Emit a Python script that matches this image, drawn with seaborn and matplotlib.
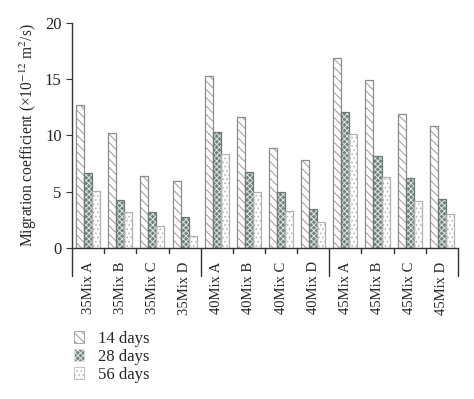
import numpy as np
import pandas as pd
import matplotlib.pyplot as plt
import seaborn as sns
from matplotlib.patches import Rectangle, Patch

mixes = ['35Mix A', '35Mix B', '35Mix C', '35Mix D',
         '40Mix A', '40Mix B', '40Mix C', '40Mix D',
         '45Mix A', '45Mix B', '45Mix C', '45Mix D']
days = ['14 days', '28 days', '56 days']
d14 = [12.7, 10.2, 6.4, 6.0, 15.3, 11.6, 8.85, 7.85, 16.85, 14.95, 11.9, 10.85]
d28 = [6.65, 4.3, 3.2, 2.75, 10.3, 6.8, 5.0, 3.5, 12.05, 8.15, 6.2, 4.35]
d56 = [5.05, 3.25, 2.0, 1.1, 8.35, 4.95, 3.3, 2.35, 10.1, 6.35, 4.15, 3.05]

df = pd.DataFrame({
    'mix': mixes * 3,
    'days': np.repeat(days, len(mixes)),
    'value': d14 + d28 + d56,
})

sns.set_style('white')
plt.rcParams['font.family'] = ['Liberation Serif', 'DejaVu Serif']
plt.rcParams['mathtext.fontset'] = 'stix'
plt.rcParams['hatch.linewidth'] = 0.7

fig = plt.figure(figsize=(4.74, 3.99), dpi=100)
ax = fig.add_axes([0.152, 0.378, 0.814, 0.565])

sns.barplot(data=df, x='mix', y='value', hue='days', width=0.75,
            palette=['white', 'white', 'white'], ax=ax, legend=False)

# face colour, hatch, hatch colour, border colour
styles = {
    '14 days': ('white', '\\\\\\\\', '#9a9a9a', '#8c8c8c'),
    '28 days': ('#738279', 'xxxxxx', '#dfe5e1', '#6a7a73'),
    '56 days': ('white', '....', '#b8b8b8', '#b0b0b0'),
}
n = len(mixes)
handles = []
for i, day in enumerate(days):
    fc, h, hc, ec = styles[day]
    for p in ax.patches[i * n:(i + 1) * n]:
        p.set_facecolor(fc)
        p.set_hatch(h)
        p.set_edgecolor(hc)
        p.set_linewidth(0)
        ax.add_patch(Rectangle(p.get_xy(), p.get_width(), p.get_height(),
                               fill=False, edgecolor=ec, linewidth=0.9))
    handles.append(Patch(facecolor=fc, hatch=h, edgecolor=hc, linewidth=0.6, label=day))

ax.set_xlim(-0.5, 11.5)
ax.set_ylim(0, 20)
ax.set_yticks([0, 5, 10, 15, 20])
ax.set_xlabel('')
ax.set_ylabel('Migration coefficient (×10$^{-12}$ m$^2$/s)', fontsize=11.2)
ax.tick_params(axis='y', labelsize=12, left=True, length=4, width=0.8, color='#333333')
ax.tick_params(axis='x', labelsize=10.5, rotation=90, bottom=False, pad=6)
for s in ['top', 'right']:
    ax.spines[s].set_visible(False)
for s in ['left', 'bottom']:
    ax.spines[s].set_color('#333333')
    ax.spines[s].set_linewidth(1.0)

# group separators and small boundary ticks below the axis
for b in np.arange(-0.5, 12, 1):
    long = b in (-0.5, 3.5, 7.5, 11.5)
    ax.plot([b, b], [0, -2.5 if long else -0.4], color='#333333',
            lw=1.0, clip_on=False)

fig.legend(handles=handles, loc='upper left', bbox_to_anchor=(0.143, 0.188),
           frameon=False, fontsize=12, handlelength=0.6, handleheight=0.7,
           handletextpad=0.8, labelspacing=0.12, borderaxespad=0)

fig.savefig('out.png', dpi=100)
